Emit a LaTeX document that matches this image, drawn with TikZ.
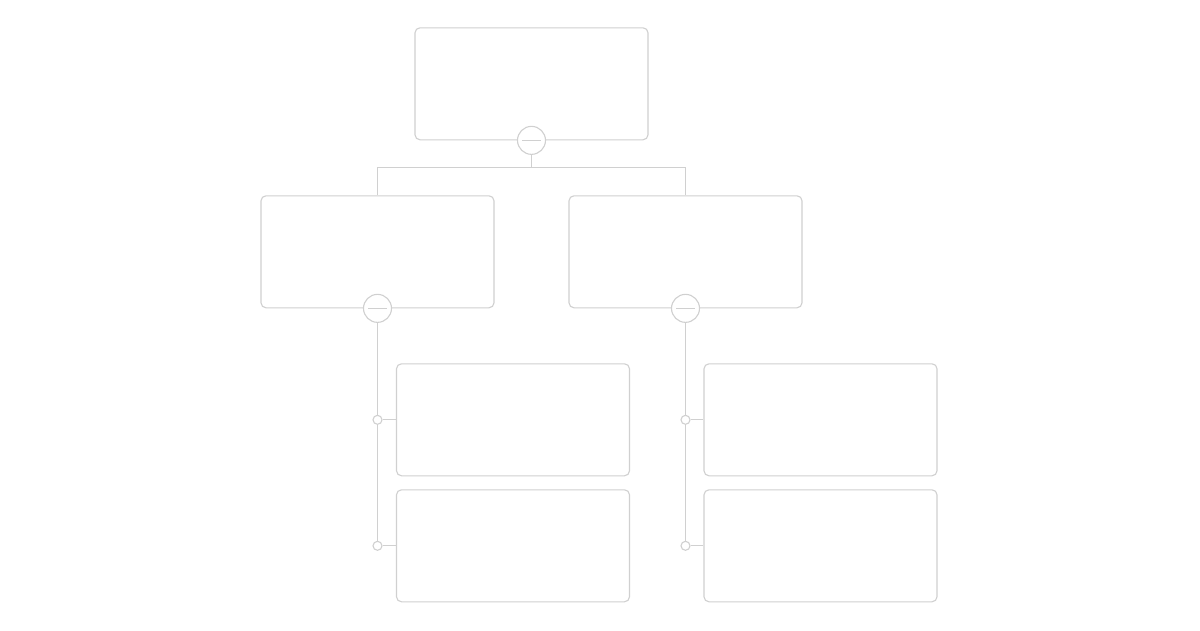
\documentclass[tikz,border=0pt]{standalone}
\begin{document}
\begin{tikzpicture}[x=1pt,y=-1pt,
  line/.style={draw=linegray,line width=1.1pt},
  card/.style={line, rounded corners=5pt, minimum width=233pt, minimum height=112pt, inner sep=0pt, fill=white},
  toggle/.style={line, circle, minimum size=28pt, inner sep=0pt, fill=white},
  dot/.style={line, circle, minimum size=9pt, inner sep=0pt, fill=white}]
\definecolor{linegray}{RGB}{208,208,208}
\useasboundingbox (0,0) rectangle (1200,630);
\fill[white] (0,0) rectangle (1200,630);
% cards
\node[card] (top) at (531.5,83.8) {};
\node[card] (l) at (377.5,251.8) {};
\node[card] (r) at (685.5,251.8) {};
\node[card] (l1) at (513,419.8) {};
\node[card] (l2) at (513,545.8) {};
\node[card] (r1) at (820.5,419.8) {};
\node[card] (r2) at (820.5,545.8) {};
% connectors
\coordinate (bus) at (531.5,167.8);
\coordinate (lend) at (377.5,545.8);
\coordinate (rend) at (685.5,545.8);
\draw[line] (top.south) -- (bus);
\draw[line] (l.north) |- (bus) -| (r.north);
\draw[line] (l.south) -- (lend);
\draw[line] (r.south) -- (rend);
\node[dot] (dl1) at (377.5,419.8) {};
\node[dot] (dl2) at (lend) {};
\node[dot] (dr1) at (685.5,419.8) {};
\node[dot] (dr2) at (rend) {};
\draw[line] (dl1.east) -- (l1.west);
\draw[line] (dl2.east) -- (l2.west);
\draw[line] (dr1.east) -- (r1.west);
\draw[line] (dr2.east) -- (r2.west);
% toggles
\node[toggle] (tt) at (top.south) {};
\node[toggle] (tl) at (l.south) {};
\node[toggle] (tr) at (r.south) {};
\foreach \t in {tt,tl,tr}
  \draw[line] ([xshift=-9.5pt]\t.center) -- ([xshift=9.5pt]\t.center);
\end{tikzpicture}
\end{document}
